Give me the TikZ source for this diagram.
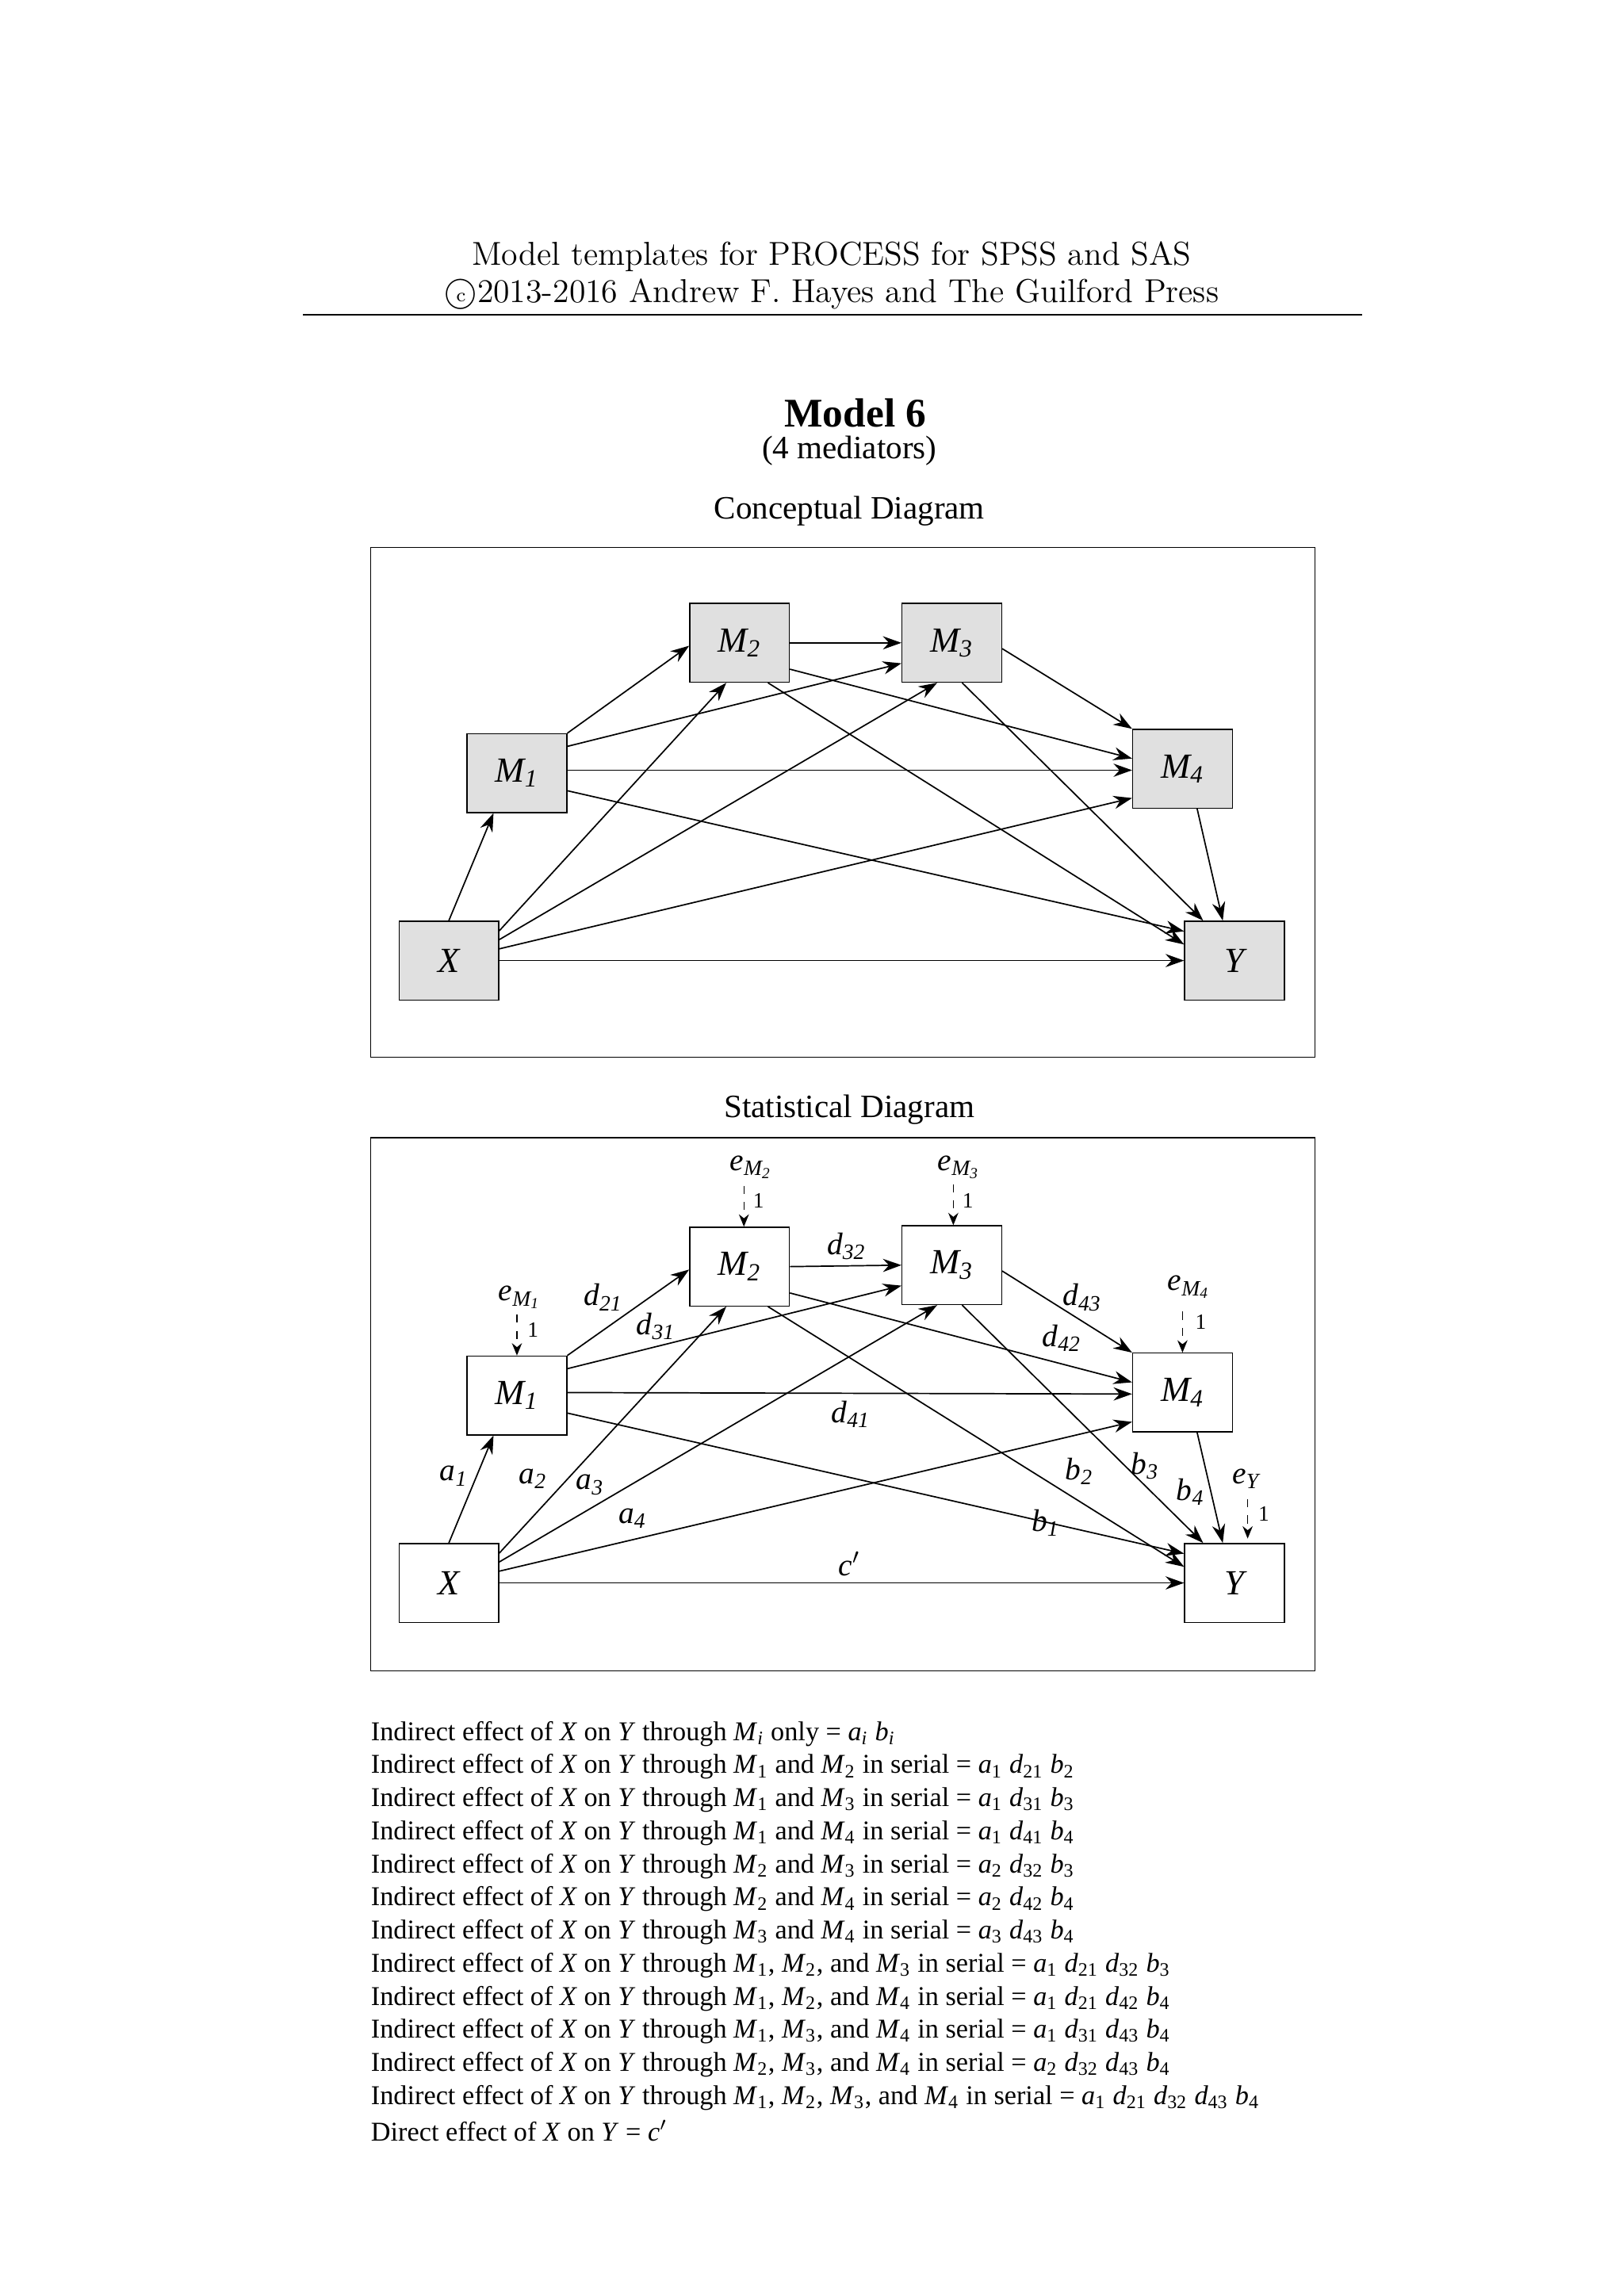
\documentclass[tikz,border=0pt]{standalone}
\usepackage{fontspec}
\newfontfamily\tms{Liberation Serif}
\usetikzlibrary{arrows.meta,calc}
\newcommand{\vv}[2]{\textit{#1}\textsubscript{#2}}
\tikzset{
  box/.style={draw,minimum width=1.29cm,minimum height=1.02cm,inner sep=0pt,font=\tms\fontsize{13}{15}\selectfont\itshape},
  cbox/.style={box,fill=black!12},
  path/.style={-{Stealth[length=2.4mm,width=1.7mm]},line width=0.5pt},
  err/.style={dashed,-{Stealth[length=1.6mm,width=1.3mm]}},
  lbl/.style={font=\tms\fontsize{11.5}{13}\selectfont\itshape,inner sep=0pt},
  one/.style={font=\tms\fontsize{8}{9}\selectfont,inner sep=0pt},
  txt/.style={font=\tms\fontsize{10}{12}\selectfont,anchor=west,inner sep=0pt}
}
\begin{document}
\begin{tikzpicture}[x=0.01895cm,y=-0.01895cm]
    \useasboundingbox (0,0) rectangle (1108,1568);
    % header
    \node at (568,175) {\fontsize{12.2}{15}\selectfont Model templates for PROCESS for SPSS and SAS};
    \node at (568,201) {\fontsize{12.2}{15}\selectfont \textcircled{\scriptsize c}2013-2016 Andrew F. Hayes and The Guilford Press};
    \draw[line width=0.4pt] (207,215) -- (930,215);
    \node at (584,282) {\tms\fontsize{15}{17}\selectfont\bfseries Model 6};
    \node at (580,308) {\tms\fontsize{12}{14}\selectfont (4 mediators)};
    \node at (580,349) {\tms\fontsize{12}{14}\selectfont Conceptual Diagram};
    \node at (580,758) {\tms\fontsize{12}{14}\selectfont Statistical Diagram};

    % conceptual diagram
    \draw (253,374) rectangle (898,722);
    \node[cbox] (cM2) at (505,439) {M\textsubscript{2}};
    \node[cbox] (cM3) at (650,439) {M\textsubscript{3}};
    \node[cbox] (cM1) at (353,528) {M\textsubscript{1}};
    \node[cbox] (cM4) at (807.5,525) {M\textsubscript{4}};
    \node[cbox] (cX) at (306.5,656) {X};
    \node[cbox] (cY) at (843,656) {Y};
    \draw[path] (cX.north) -- ($(cM1.south)+(-16,0)$);
    \draw[path] ($(cX.north east)+(0,7)$) -- ($(cM2.south)+(-9,0)$);
    \draw[path] ($(cX.north east)+(0,13)$) -- ($(cM3.south)+(-10,0)$);
    \draw[path] ($(cX.east)+(0,-8)$) -- ($(cM4.west)+(0,20)$);
    \draw[path] (cX.east) -- (cY.west);
    \draw[path] (cM1.north east) -- ($(cM2.west)+(0,2)$);
    \draw[path] ($(cM1.north east)+(0,9)$) -- ($(cM3.west)+(0,14)$);
    \draw[path] ($(cM1.east)+(0,-2)$) -- ($(cM4.west)+(0,1)$);
    \draw[path] ($(cM1.east)+(0,12)$) -- ($(cY.west)+(0,-20)$);
    \draw[path] (cM2.east) -- (cM3.west);
    \draw[path] ($(cM2.east)+(0,18)$) -- ($(cM4.west)+(0,-7)$);
    \draw[path] ($(cM2.south east)+(-15,0)$) -- ($(cY.west)+(0,-11)$);
    \draw[path] ($(cM3.east)+(0,4)$) -- (cM4.north west);
    \draw[path] ($(cM3.south)+(7,0)$) -- ($(cY.north west)+(13,0)$);
    \draw[path] ($(cM4.south)+(10,0)$) -- ($(cY.north)+(-8,0)$);

    % statistical diagram
    \draw (253,777) rectangle (898,1141);
    \node[box] (sM2) at (505,865) {M\textsubscript{2}};
    \node[box] (sM3) at (650,864) {M\textsubscript{3}};
    \node[box] (sM1) at (353,953) {M\textsubscript{1}};
    \node[box] (sM4) at (807.5,951) {M\textsubscript{4}};
    \node[box] (sX) at (306.5,1081) {X};
    \node[box] (sY) at (843,1081) {Y};
    \draw[path] (sX.north) -- ($(sM1.south)+(-16,0)$);
    \draw[path] ($(sX.north east)+(0,7)$) -- ($(sM2.south)+(-9,0)$);
    \draw[path] ($(sX.north east)+(0,13)$) -- ($(sM3.south)+(-10,0)$);
    \draw[path] ($(sX.east)+(0,-8)$) -- ($(sM4.west)+(0,20)$);
    \draw[path] (sX.east) -- (sY.west);
    \draw[path] (sM1.north east) -- ($(sM2.west)+(0,2)$);
    \draw[path] ($(sM1.north east)+(0,9)$) -- ($(sM3.west)+(0,14)$);
    \draw[path] ($(sM1.east)+(0,-2)$) -- ($(sM4.west)+(0,1)$);
    \draw[path] ($(sM1.east)+(0,12)$) -- ($(sY.west)+(0,-20)$);
    \draw[path] (sM2.east) -- (sM3.west);
    \draw[path] ($(sM2.east)+(0,18)$) -- ($(sM4.west)+(0,-7)$);
    \draw[path] ($(sM2.south east)+(-15,0)$) -- ($(sY.west)+(0,-11)$);
    \draw[path] ($(sM3.east)+(0,4)$) -- (sM4.north west);
    \draw[path] ($(sM3.south)+(7,0)$) -- ($(sY.north west)+(13,0)$);
    \draw[path] ($(sM4.south)+(10,0)$) -- ($(sY.north)+(-8,0)$);

    % error terms
    \node[lbl] (eM2) at (513,797) {e\textsubscript{\vv{M}{2}}};
    \node[lbl] (eM3) at (655,797) {e\textsubscript{\vv{M}{3}}};
    \node[lbl] (eM1) at (355,886) {e\textsubscript{\vv{M}{1}}};
    \node[lbl] (eM4) at (812,879) {e\textsubscript{\vv{M}{4}}};
    \node[lbl] (eY) at (851,1010) {e\textsubscript{Y}};
    \draw[err] ($(sM2.north)+(3,-28)$) -- ($(sM2.north)+(3,0)$);
    \draw[err] ($(sM3.north)+(1,-28)$) -- ($(sM3.north)+(1,0)$);
    \draw[err] ($(sM1.north)+(0,-28)$) -- ($(sM1.north)+(0,0)$);
    \draw[err] ($(sM4.north)+(0,-28)$) -- ($(sM4.north)+(0,0)$);
    \draw[err] ($(sY.north)+(9,-30)$) -- ($(sY.north)+(9,-3)$);
    \node[one] at (518,820) {1};
    \node[one] at (661,820) {1};
    \node[one] at (364,908) {1};
    \node[one] at (820,903) {1};
    \node[one] at (863,1034) {1};

    % path labels
    \node[lbl] at (412,886) {d\textsubscript{21}};
    \node[lbl] at (448,906) {d\textsubscript{31}};
    \node[lbl] at (578,851) {d\textsubscript{32}};
    \node[lbl] at (739,886) {d\textsubscript{43}};
    \node[lbl] at (725,914) {d\textsubscript{42}};
    \node[lbl] at (581,966) {d\textsubscript{41}};
    \node[lbl] at (310,1008) {a\textsubscript{1}};
    \node[lbl] at (364,1010) {a\textsubscript{2}};
    \node[lbl] at (403,1014) {a\textsubscript{3}};
    \node[lbl] at (432,1037) {a\textsubscript{4}};
    \node[lbl] at (737,1005) {b\textsubscript{2}};
    \node[lbl] at (782,1001) {b\textsubscript{3}};
    \node[lbl] at (714,1040) {b\textsubscript{1}};
    \node[lbl] at (813,1019) {b\textsubscript{4}};
    \node[lbl] at (580,1068) {c$'$};

    % effects
    \foreach \eff [count=\i from 0] in {
      {\vv{M}{\textit{i}} only = \vv{a}{\textit{i}} \vv{b}{\textit{i}}},
      {\vv{M}{1} and \vv{M}{2} in serial = \vv{a}{1} \vv{d}{21} \vv{b}{2}},
      {\vv{M}{1} and \vv{M}{3} in serial = \vv{a}{1} \vv{d}{31} \vv{b}{3}},
      {\vv{M}{1} and \vv{M}{4} in serial = \vv{a}{1} \vv{d}{41} \vv{b}{4}},
      {\vv{M}{2} and \vv{M}{3} in serial = \vv{a}{2} \vv{d}{32} \vv{b}{3}},
      {\vv{M}{2} and \vv{M}{4} in serial = \vv{a}{2} \vv{d}{42} \vv{b}{4}},
      {\vv{M}{3} and \vv{M}{4} in serial = \vv{a}{3} \vv{d}{43} \vv{b}{4}},
      {\vv{M}{1}, \vv{M}{2}, and \vv{M}{3} in serial = \vv{a}{1} \vv{d}{21} \vv{d}{32} \vv{b}{3}},
      {\vv{M}{1}, \vv{M}{2}, and \vv{M}{4} in serial = \vv{a}{1} \vv{d}{21} \vv{d}{42} \vv{b}{4}},
      {\vv{M}{1}, \vv{M}{3}, and \vv{M}{4} in serial = \vv{a}{1} \vv{d}{31} \vv{d}{43} \vv{b}{4}},
      {\vv{M}{2}, \vv{M}{3}, and \vv{M}{4} in serial = \vv{a}{2} \vv{d}{32} \vv{d}{43} \vv{b}{4}},
      {\vv{M}{1}, \vv{M}{2}, \vv{M}{3}, and \vv{M}{4} in serial = \vv{a}{1} \vv{d}{21} \vv{d}{32} \vv{d}{43} \vv{b}{4}}}
      \node[txt] (eff\i) at (253,1184+22.6*\i) {Indirect effect of \textit{X} on \textit{Y} through \eff};
    \node[txt] (direct) at (253,1455) {Direct effect of \textit{X} on \textit{Y} = \textit{c}$'$};
\end{tikzpicture}
\end{document}
